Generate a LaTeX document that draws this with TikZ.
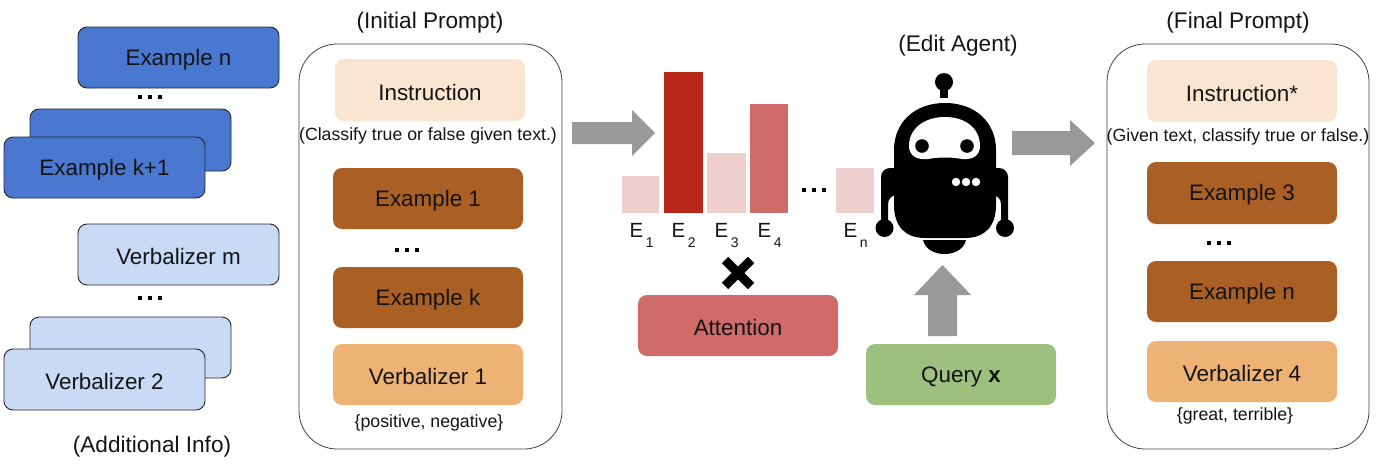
\documentclass[tikz,border=0pt]{standalone}
\usepackage{fontspec}
\setmainfont{Liberation Sans}
\definecolor{blueD}{HTML}{4A78D0}
\definecolor{blueL}{HTML}{C9DAF6}
\definecolor{cream}{HTML}{F9E5D0}
\definecolor{brownB}{HTML}{AA5F24}
\definecolor{tan}{HTML}{EDB274}
\definecolor{redD}{HTML}{B8281A}
\definecolor{redM}{HTML}{CF6C6A}
\definecolor{redL}{HTML}{EDCFCD}
\definecolor{greenQ}{HTML}{9DC07F}
\definecolor{greyA}{HTML}{999999}
\tikzset{
  x=1pt,y=-1pt,
  box/.style={rounded corners=9pt,inner sep=0pt},
  stack/.style={box,draw=black!85,line width=0.9pt},
  txt/.style={font=\fontsize{22.4}{25}\selectfont,text=black!92,yshift=-2pt},
  small/.style={font=\fontsize{17.7}{20}\selectfont,text=black!92,yshift=-1pt},
  head/.style={font=\fontsize{22.6}{25}\selectfont,text=black!92,yshift=-2pt},
  frame/.style={draw=black!75,line width=0.8pt,rounded corners=38pt},
  blockarrow/.style={fill=greyA},
}
\newcommand{\rbox}[7]{% name x1 y1 x2 y2 style text
  \path[#6] (#2,#3) rectangle (#4,#5);
  \node[txt] (#1) at ({(#2+#4)/2},{(#3+#5)/2}) {#7};
}
\newcommand{\threedots}[2]{%
  \foreach \d in {-10,0,10} \fill ({#1+\d-2.4},{#2-2.4}) rectangle ({#1+\d+2.4},{#2+2.4});
}
\newcommand{\ebar}[6]{% name x1 ytop x2 color sub
  \fill[#5] (#2,#3) rectangle (#4,213);
  \node[font=\fontsize{20.5}{24}\selectfont,text=black!92,inner sep=0pt,anchor=base west] (#1) at ({#2+7.5},237) {E\raisebox{-10pt}{\fontsize{14}{16}\selectfont\hspace{2.5pt}#6}};
}
\begin{document}
\begin{tikzpicture}
\useasboundingbox (0,0) rectangle (1376,474);
% left stacks
\rbox{exn}{78}{27}{279}{88}{stack,fill=blueD}{Example n}
\threedots{150}{97}
\path[stack,fill=blueD] (30,109) rectangle (231,171);
\rbox{exk}{4}{137}{205}{198}{stack,fill=blueD}{Example k+1}
\rbox{verm}{78}{224}{279}{285}{stack,fill=blueL}{Verbalizer m}
\threedots{150}{298}
\path[stack,fill=blueL] (30,317) rectangle (231,378);
\rbox{ver2}{4}{349}{205}{410}{stack,fill=blueL}{Verbalizer 2}
\node[head] (addinfo) at (152,445) {(Additional Info)};
% initial prompt
\draw[frame] (299,44) rectangle (562,449);
\node[head] (initt) at (430,21) {(Initial Prompt)};
\rbox{ins}{335}{59}{525}{121}{box,fill=cream}{Instruction}
\node[small] (inscap) at (428,135) {(Classify true or false given text.)};
\rbox{ex1}{333}{168}{523}{229}{box,fill=brownB}{Example 1}
\threedots{407}{250}
\rbox{exkk}{333}{267}{523}{328}{box,fill=brownB}{Example k}
\rbox{ver1}{333}{344}{523}{405}{box,fill=tan}{Verbalizer 1}
\node[small] (vercap) at (429,422) {\{positive, negative\}};
% arrow 1
\fill[blockarrow] (572,122) -- (632,122) -- (632,110) -- (655,133) -- (632,156) -- (632,144) -- (572,144) -- cycle;
% bars
\ebar{e1}{622}{176}{659}{redL}{1}
\ebar{e2}{664}{72}{703}{redD}{2}
\ebar{e3}{707}{153}{746}{redL}{3}
\ebar{e4}{750}{104}{788}{redM}{4}
\ebar{en}{836}{168}{874}{redL}{n}
\threedots{814}{190}
% cross
\draw[line width=9pt] (725,260) -- (751,286) (751,260) -- (725,286);
\rbox{att}{638}{295}{838}{356}{box,fill=redM}{Attention}
% robot
\node[head] (edit) at (958,44) {(Edit Agent)};
\fill (944,82) circle (9);
\fill (940,85) rectangle (948,98);
% arms
\fill[rounded corners=9pt] (881,228) -- (881,168) -- (1008,168) -- (1008,228) -- (1001,228) -- (1001,195) -- (888,195) -- (888,228) -- cycle;
\fill (884.5,228) circle (9);
\fill (1005,228) circle (9);
% body
\fill (894,150) .. controls (894,122) and (915,103) .. (945,103) .. controls (975,103) and (996,122) .. (996,150) -- (996,205) .. controls (996,226) and (985,238) .. (965,238) -- (925,238) .. controls (905,238) and (894,226) .. (894,205) -- cycle;
% visor
\fill[white] (909,146) .. controls (909,128) and (925,117) .. (945,117) .. controls (965,117) and (980,128) .. (980,146) .. controls (980,156) and (972,160) .. (962,159) .. controls (952,157) and (938,157) .. (928,159) .. controls (917,160) and (909,156) .. (909,146) -- cycle;
\fill (922,146) circle (6.8);
\fill (967,146) circle (6.8);
\fill[white] (956,182) circle (4.2) (966,182) circle (4.2) (976,182) circle (4.2);
% foot
\fill (923,240) -- (966,240) .. controls (964,249) and (955,254) .. (944.5,254) .. controls (934,254) and (925,249) .. (923,240) -- cycle;
% arrow 2
\fill[blockarrow] (1012,131) -- (1070,131) -- (1070,120) -- (1095,143) -- (1070,166) -- (1070,155) -- (1012,155) -- cycle;
% arrow up
\fill[blockarrow] (928,336) -- (928,295) -- (914,295) -- (942.5,265) -- (971,295) -- (957,295) -- (957,336) -- cycle;
\rbox{qry}{866}{344}{1056}{405}{box,fill=greenQ}{Query \textbf{x}}
% final prompt
\draw[frame] (1107,44) rectangle (1369,449);
\node[head] (fint) at (1238,21) {(Final Prompt)};
\rbox{insf}{1147}{60}{1337}{122}{box,fill=cream}{Instruction*}
\node[small] (insfcap) at (1238,136) {(Given text, classify true or false.)};
\rbox{ex3}{1147}{162}{1337}{224}{box,fill=brownB}{Example 3}
\threedots{1219}{243}
\rbox{exnf}{1147}{261}{1337}{322}{box,fill=brownB}{Example n}
\rbox{ver4}{1147}{341}{1337}{402}{box,fill=tan}{Verbalizer 4}
\node[small] (ver4cap) at (1235,415) {\{great, terrible\}};
\end{tikzpicture}
\end{document}
